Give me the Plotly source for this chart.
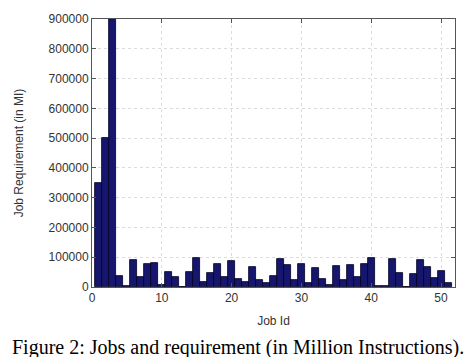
import plotly.graph_objects as go

job_ids = list(range(1, 52))
requirements = [
    350000, 500000, 900000, 38000, 2000, 92000, 35000, 76000, 79000, 7000,
    49000, 34000, 1000, 51000, 99000, 18000, 48000, 76000, 33000, 87000,
    27000, 18000, 68000, 22000, 13000, 37000, 95000, 73000, 22000, 76000,
    13000, 65000, 27000, 8000, 71000, 24000, 73000, 35000, 76000, 99000,
    4000, 4000, 95000, 48000, 0, 43000, 92000, 66000, 31000, 53000, 13000,
]
x_ticks = [0, 10, 20, 30, 40, 50]
y_ticks = [0, 100000, 200000, 300000, 400000, 500000, 600000, 700000, 800000, 900000]

sans = "Liberation Sans, Arial, sans-serif"

fig = go.Figure()
fig.add_trace(go.Bar(
    x=job_ids, y=requirements, width=1.0,
    marker=dict(color="#16166e", line=dict(color="#000022", width=0.8)),
))

axis_common = dict(
    showline=True, linecolor="#555555", linewidth=1, mirror="ticks",
    ticks="inside", ticklen=4, tickcolor="#555555",
    showgrid=True, gridcolor="#dcdcdc", griddash="dot", gridwidth=1,
    zeroline=False,
    tickfont=dict(family=sans, size=12, color="#333333"),
)

fig.update_layout(
    width=474, height=357,
    margin=dict(l=92, r=19, t=14, b=70),
    plot_bgcolor="white", paper_bgcolor="white",
    showlegend=False, bargap=0,
    xaxis=dict(range=[0, 52], tickvals=x_ticks, **axis_common,
               title=dict(text="Job Id", font=dict(family=sans, size=12, color="#333333"), standoff=12)),
    yaxis=dict(range=[0, 900000], tickvals=y_ticks, ticktext=[str(v) for v in y_ticks], **axis_common,
               title=dict(text="Job Requirement (in MI)", font=dict(family=sans, size=12, color="#333333"), standoff=22)),
)

fig.add_annotation(
    text="Figure 2: Jobs and requirement (in Million Instructions).",
    xref="paper", yref="paper", x=0.5, y=0, yshift=-47,
    xanchor="center", yanchor="top", showarrow=False,
    xshift=-36,
    font=dict(family="Liberation Serif, Times New Roman, serif", size=20, color="black"),
)

fig.write_html("out.html")
